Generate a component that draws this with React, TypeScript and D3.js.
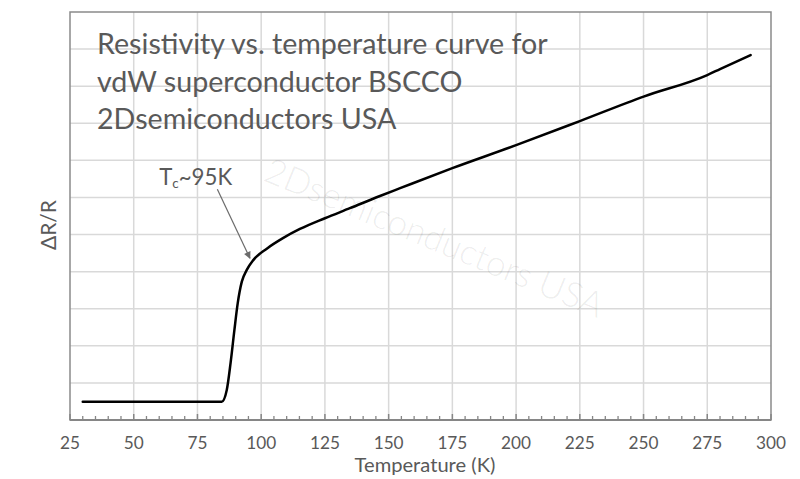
import React, { useLayoutEffect, useRef, useState } from "react";
import * as d3 from "d3";

// Temperature (K) and normalised resistance ΔR/R
const TEMPS = [30, 84.5, 86.5, 88, 89.5, 90.8, 92.4, 94.3, 96.9, 102.2, 108.7, 115.2, 125, 134.8, 146.6, 154.5, 175, 200, 225, 250, 275, 280, 292];
const DR = [0.49, 0.49, 0.81, 1.54, 2.43, 3.15, 3.73, 4.04, 4.31, 4.62, 4.91, 5.15, 5.44, 5.71, 6.04, 6.25, 6.79, 7.41, 8.06, 8.72, 9.3, 9.46, 9.84];

const X_TICKS = [25, 50, 75, 100, 125, 150, 175, 200, 225, 250, 275, 300];
const Y_GRID = [0, 1, 2, 3, 4, 5, 6, 7, 8, 9, 10, 11];
const MINOR_STEP = 5;

const TITLE_LINES = [
  "Resistivity vs. temperature curve for",
  "vdW superconductor BSCCO",
  "2Dsemiconductors USA",
];
const X_TITLE = "Temperature (K)";
const Y_TITLE = "ΔR/R";
const WATERMARK = "2Dsemiconductors USA";
// annotation: label anchor and arrow (in data units)
const TC_LABEL = { t: 60.0, v: 6.34 };
const TC_ARROW = { t0: 82.8, v0: 6.22, t1: 95.6, v1: 4.36 };

const FONT = "Lato, 'Open Sans', 'DejaVu Sans', sans-serif";
const TXT = "#595959";

export default function App() {
  const x = d3.scaleLinear().domain([25, 300]).range([70, 771]);
  const y = d3.scaleLinear().domain([0, 11]).range([420, 12]);

  const pts = TEMPS.map((t, i) => [t, DR[i]] as [number, number]);
  const line = d3
    .line<[number, number]>()
    .x((d) => x(d[0]))
    .y((d) => y(d[1]))
    .curve(d3.curveMonotoneX);

  const minor = d3.range(30, 300, MINOR_STEP).filter((t) => t % 25 !== 0);

  const rTitle = useRef<SVGTextElement>(null);
  const rTc = useRef<SVGTextElement>(null);
  const rTick = useRef<SVGTextElement>(null);
  const rXt = useRef<SVGTextElement>(null);
  const rYt = useRef<SVGTextElement>(null);
  const rWm = useRef<SVGTextElement>(null);
  const BASE = 20;
  const [fit, setFit] = useState<null | Record<string, number>>(null);

  useLayoutEffect(() => {
    if (fit) return;
    const f = (el: SVGTextElement | null, target: number) => {
      if (!el) return BASE;
      const w = el.getComputedTextLength();
      return w > 0 ? (BASE * target) / w : BASE;
    };
    setFit({
      title: f(rTitle.current, 451),
      tc: f(rTc.current, 73),
      tick: f(rTick.current, 30),
      xt: f(rXt.current, 141),
      yt: f(rYt.current, 50),
      wm: f(rWm.current, 363),
    });
  }, [fit]);

  const s = (k: string) => (fit ? fit[k] : BASE);

  return (
    <svg
      width={800}
      height={479}
      style={{ position: "absolute", left: 0, top: 0, background: "#fff" }}
      fontFamily={FONT}
    >
      <defs>
        <marker id="arrow" viewBox="0 0 10 10" refX="9" refY="5" markerWidth="9" markerHeight="7" markerUnits="userSpaceOnUse" orient="auto">
          <path d="M0,0 L10,5 L0,10 z" fill="#6b6b6b" />
        </marker>
      </defs>
      <rect x={0} y={0} width={800} height={479} fill="#fff" />

      {/* grid */}
      {X_TICKS.slice(1, -1).map((t) => (
        <line key={"gx" + t} x1={x(t)} x2={x(t)} y1={y(11)} y2={y(0)} stroke="#d9d9d9" strokeWidth={1.5} />
      ))}
      {Y_GRID.slice(1, -1).map((v) => (
        <line key={"gy" + v} x1={x(25)} x2={x(300)} y1={y(v)} y2={y(v)} stroke="#d9d9d9" strokeWidth={1.5} />
      ))}

      {/* watermark */}
      <text
        ref={rWm}
        transform={`translate(262,180) rotate(22.4)`}
        fontSize={s("wm")}
        fill="#000"
        fillOpacity={0.08}
        fontWeight={300}
      >
        {WATERMARK}
      </text>

      {/* frame */}
      <rect x={x(25)} y={y(11)} width={x(300) - x(25)} height={y(0) - y(11)} fill="none" stroke="#8a8a8a" strokeWidth={1.5} />
      <line x1={x(25)} x2={x(300)} y1={y(0)} y2={y(0)} stroke="#868686" strokeWidth={2} />

      {/* ticks */}
      {minor.map((t) => (
        <line key={"mt" + t} x1={x(t)} x2={x(t)} y1={y(0)} y2={y(0) - 4} stroke="#868686" strokeWidth={1.3} />
      ))}
      {X_TICKS.map((t) => (
        <line key={"Mt" + t} x1={x(t)} x2={x(t)} y1={y(0)} y2={y(0) - 6} stroke="#868686" strokeWidth={1.5} />
      ))}
      {X_TICKS.map((t) => (
        <text
          key={"tl" + t}
          ref={t === 150 ? rTick : undefined}
          x={x(t)}
          y={449}
          textAnchor="middle"
          fontSize={s("tick")}
          fill={TXT}
        >
          {t}
        </text>
      ))}

      {/* axis titles */}
      <text ref={rXt} x={425} y={472} textAnchor="middle" fontSize={s("xt")} fill={TXT}>
        {X_TITLE}
      </text>
      <text ref={rYt} transform="translate(55.5,225) rotate(-90)" textAnchor="middle" fontSize={s("yt")} fill={TXT}>
        {Y_TITLE}
      </text>

      {/* title */}
      {TITLE_LINES.map((l, i) => (
        <text key={"ti" + i} ref={i === 0 ? rTitle : undefined} x={97} y={54 + i * 37.5} fontSize={s("title")} fill={TXT}>
          {l}
        </text>
      ))}

      {/* curve */}
      <path d={line(pts) || ""} fill="none" stroke="#000" strokeWidth={2.5} strokeLinejoin="round" strokeLinecap="round" />

      {/* annotation */}
      <text ref={rTc} x={x(TC_LABEL.t)} y={y(TC_LABEL.v)} fontSize={s("tc")} fill={TXT}>
        T
        <tspan fontSize={s("tc") * 0.6} dy={s("tc") * 0.15}>c</tspan>
        <tspan dy={-s("tc") * 0.15}>~95K</tspan>
      </text>
      <line
        x1={x(TC_ARROW.t0)}
        y1={y(TC_ARROW.v0)}
        x2={x(TC_ARROW.t1)}
        y2={y(TC_ARROW.v1)}
        stroke="#6b6b6b"
        strokeWidth={1.2}
        markerEnd="url(#arrow)"
      />
    </svg>
  );
}
